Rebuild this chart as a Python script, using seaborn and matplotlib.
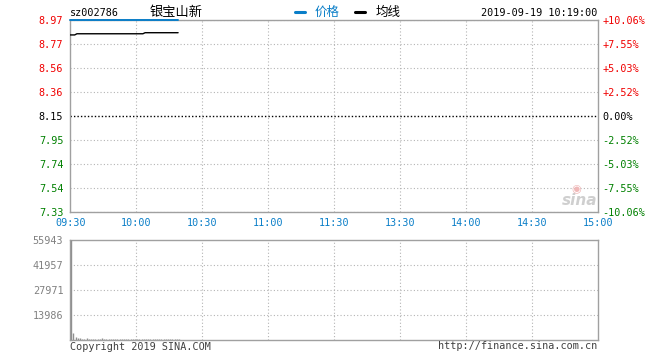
import numpy as np
import pandas as pd
import matplotlib
matplotlib.use("Agg")
import matplotlib.pyplot as plt
import seaborn as sns

# ---------------- data ----------------
stock_code = "sz002786"
stock_name = "银宝山新"
timestamp = "2019-09-19 10:19:00"
prev_close = 8.15

time_ticks = [0, 30, 60, 90, 120, 150, 180, 210, 240]
time_labels = ["09:30", "10:00", "10:30", "11:00", "11:30", "13:30", "14:00", "14:30", "15:00"]

price_ticks = [8.97, 8.77, 8.56, 8.36, 8.15, 7.95, 7.74, 7.54, 7.33]
pct_labels = ["+10.06%", "+7.55%", "+5.03%", "+2.52%", "0.00%", "-2.52%", "-5.03%", "-7.55%", "-10.06%"]

vol_ticks = [13986, 27971, 41957, 55943]

minutes = list(range(50))
price = [8.97] * 50
avg_line = [8.845, 8.845, 8.845] + [8.855] * 31 + [8.864] * 16
volume = [55943, 4100, 1800, 1300, 1200, 700, 650, 1400, 600, 600,
          550, 600, 650, 700, 1300, 600, 550, 600, 500, 550,
          600, 550, 500, 600, 550, 500, 550, 600, 500, 550,
          600, 500, 550, 500, 600, 550, 500, 550, 500, 600,
          550, 500, 550, 600, 500, 550, 500, 550, 500, 550]

df = pd.DataFrame({"minute": minutes, "price": price, "avg": avg_line, "volume": volume})

# ---------------- style ----------------
sns.set_style("white")
plt.rcParams["font.family"] = ["DejaVu Sans Mono", "Noto Sans CJK SC"]
plt.rcParams["axes.linewidth"] = 1.0

RED = "#f00000"
GREEN = "#008000"
BLUE = "#0a7ec8"
GRIDC = "#b4b4b4"
SPINE = "#a0a0a0"

fig = plt.figure(figsize=(6.6, 3.6), dpi=100)
W, H = 660, 360
def box(l, t, r, b):
    return [l / W, 1 - b / H, (r - l) / W, (b - t) / H]

ax = fig.add_axes(box(70.3, 20.3, 598.3, 212.3))
axv = fig.add_axes(box(70.3, 240.3, 598.3, 340.0))

# ---------------- price panel ----------------
ax.set_xlim(0, 240)
ax.set_ylim(7.33, 8.97)
for y in price_ticks:
    if abs(y - prev_close) < 1e-6:
        ax.axhline(y, color="black", lw=1.0, ls=(0, (1, 1.5)), zorder=1)
    else:
        ax.axhline(y, color=GRIDC, lw=0.8, ls=(0, (1, 2)), zorder=1)
for x in time_ticks[1:-1]:
    ax.axvline(x, color=GRIDC, lw=0.8, ls=(0, (1, 2)), zorder=1)

ax2 = ax.twinx()
ax2.set_ylim(ax.get_ylim())
ax2.set_yticks(price_ticks)
ax2.set_yticklabels(pct_labels)
ax2.tick_params(axis="y", length=0, labelsize=7.3, pad=3)
for lbl, v in zip(ax2.get_yticklabels(), price_ticks):
    lbl.set_color(RED if v > prev_close + 1e-6 else (GREEN if v < prev_close - 1e-6 else "black"))
for s in ax2.spines.values():
    s.set_visible(False)
ax.set_zorder(ax2.get_zorder() + 1)
ax.patch.set_visible(False)

sns.lineplot(data=df, x="minute", y="avg", ax=ax, color="black", lw=1.0, legend=False, zorder=3)
sns.lineplot(data=df, x="minute", y="price", ax=ax, color=BLUE, lw=1.4, legend=False, zorder=4)
for ln in ax.get_lines()[-1:]:
    ln.set_clip_on(False)

ax.set_xticks(time_ticks)
ax.set_xticklabels(time_labels)
ax.set_yticks(price_ticks)
ax.set_yticklabels([f"{v:.2f}" for v in price_ticks])
ax.tick_params(axis="both", length=0, labelsize=7.3)
ax.tick_params(axis="y", pad=5)
ax.tick_params(axis="x", pad=4, colors=BLUE)
for lbl, v in zip(ax.get_yticklabels(), price_ticks):
    lbl.set_color(RED if v > prev_close + 1e-6 else (GREEN if v < prev_close - 1e-6 else "black"))
ax.set_xlabel("")
ax.set_ylabel("")
for s in ax.spines.values():
    s.set_color(SPINE)
    s.set_zorder(2)

# sina watermark
ax.text(0.998, 0.022, "sina", transform=ax.transAxes, ha="right", va="bottom",
        fontsize=11, fontweight="bold", style="italic", color="#cfcfcf",
        family=["DejaVu Sans"], zorder=2)
ax.text(0.958, 0.12, "◉", transform=ax.transAxes, ha="center", va="center",
        fontsize=8, color="#f0b8b8", family=["DejaVu Sans"], zorder=2)

# ---------------- volume panel ----------------
axv.set_xlim(0, 240)
axv.set_ylim(0, 55943)
for y in vol_ticks[:-1]:
    axv.axhline(y, color=GRIDC, lw=0.8, ls=(0, (1, 2)), zorder=1)
for x in time_ticks[1:-1]:
    axv.axvline(x, color=GRIDC, lw=0.8, ls=(0, (1, 2)), zorder=1)
axv.vlines(df["minute"] + 0.4, 0, df["volume"], colors="#909090", lw=1.0, zorder=3)
axv.set_xticks([])
axv.set_yticks(vol_ticks)
axv.set_yticklabels([str(v) for v in vol_ticks])
axv.tick_params(axis="y", length=0, labelsize=7.3, pad=5, colors="#808080")
for s in axv.spines.values():
    s.set_color(SPINE)

# ---------------- header / footer ----------------
fig.text(70 / W, 1 - 13 / H, stock_code, fontsize=7.3, color="black", va="center", ha="left")
fig.text(150 / W, 1 - 12.5 / H, stock_name, fontsize=9.5, color="black", va="center", ha="left",
         family=["Noto Sans CJK SC"])
fig.add_artist(plt.Line2D([295 / W, 305 / W], [1 - 12.3 / H] * 2, color=BLUE, lw=2.2))
fig.text(315 / W, 1 - 12.5 / H, "价格", fontsize=9, color=BLUE, va="center", ha="left",
         family=["Noto Sans CJK SC"])
fig.add_artist(plt.Line2D([355 / W, 365 / W], [1 - 12.3 / H] * 2, color="black", lw=2.2))
fig.text(376 / W, 1 - 12.5 / H, "均线", fontsize=9, color="black", va="center", ha="left",
         family=["Noto Sans CJK SC"])
fig.text(597 / W, 1 - 13 / H, timestamp, fontsize=7.3, color="black", va="center", ha="right")

fig.text(70 / W, 1 - 347 / H, "Copyright 2019 SINA.COM", fontsize=7.3, color="#404040", va="center", ha="left")
fig.text(597 / W, 1 - 346 / H, "http://finance.sina.com.cn", fontsize=7.3, color="#404040", va="center", ha="right")

fig.savefig("out.png", dpi=100)
